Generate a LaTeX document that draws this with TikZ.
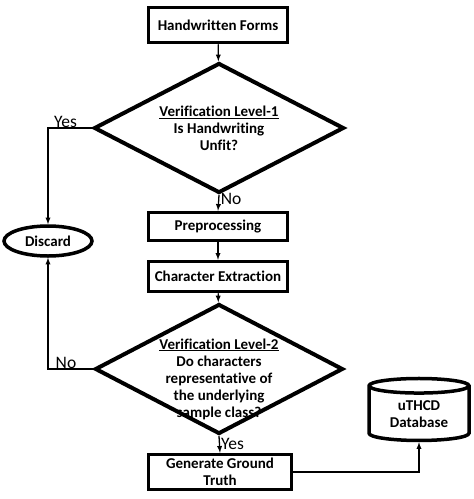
\documentclass[tikz,border=0pt]{standalone}
\usepackage{fontspec}
\setmainfont{Carlito}[Ligatures=NoCommon]
\usetikzlibrary{shapes.geometric, positioning}
\newcommand{\boxfont}{\fontsize{15}{17}\selectfont\bfseries}
\newcommand{\tagfont}{\fontsize{17.5}{19}\selectfont}

\begin{document}
\begin{tikzpicture}[>=latex, x=1pt, y=-1pt,
    box/.style={draw, line width=3.5pt, minimum width=139pt, inner sep=0pt,
        align=center, font=\boxfont},
    decision/.style={draw, diamond, line width=4pt, inner sep=0pt},
    decisiontext/.style={align=center, font=\boxfont, inner sep=0pt},
    terminal/.style={draw, ellipse, line width=3.5pt, minimum width=88pt,
        minimum height=30pt, inner sep=0pt, font=\boxfont},
    store/.style={draw, cylinder, shape border rotate=90, aspect=0.25,
        line width=3.5pt, minimum width=100pt, minimum height=62pt,
        inner sep=0pt, align=center, font=\boxfont},
    flow/.style={->, line width=1.3pt},
    tag/.style={font=\tagfont, inner sep=1.5pt}]

    \useasboundingbox (0,0) rectangle (474,499);

    % 1. Boxes
    \node[box, minimum height=35pt] (forms) at (218,25) {Handwritten Forms};
    \node[box, minimum height=28pt] (prep) at (218,226.5) {Preprocessing};
    \node[box, minimum height=30pt] (extract) at (218,276.5) {Character Extraction};
    \node[box, minimum width=143pt, minimum height=35pt] (truth) at (220,472)
        {Generate Ground\\Truth};

    % 2. Decisions
    \node[decision, minimum width=250pt, minimum height=130pt,
        label={[decisiontext]center:\underline{Verification Level-1}\\
            Is Handwriting\\Unfit?}] (check1) at (219,128) {};
    \node[decision, minimum width=248pt, minimum height=130pt,
        label={[decisiontext, yshift=-10pt]center:\underline{Verification Level-2}\\
            Do characters\\representative of\\the underlying\\sample class?}]
        (check2) at (219,369) {};

    % 3. Discard and database
    \node[terminal] (discard) at (48,241) {Discard};
    \node[store] (db) at (419,414) {uTHCD\\Database};

    % 4. Connectors
    \draw[flow] (forms) -- (check1);
    \draw[flow] (check1.west) -| node[tag, pos=0.3, above, inner sep=0pt] {Yes} (discard.north);
    \draw[flow] (check1.south) -- node[tag, near start, right] {No} (prep.north);
    \draw[flow] (prep) -- (extract);
    \draw[flow] (extract) -- (check2);
    \draw[flow] (check2.west) -| node[tag, pos=0.3, above, inner sep=0pt] {No} (discard.south);
    \draw[flow] (check2.south) -- node[tag, midway, right, inner sep=1pt] {Yes} (truth.north);
    \draw[flow] (truth.east) -| (db.south);

\end{tikzpicture}
\end{document}
